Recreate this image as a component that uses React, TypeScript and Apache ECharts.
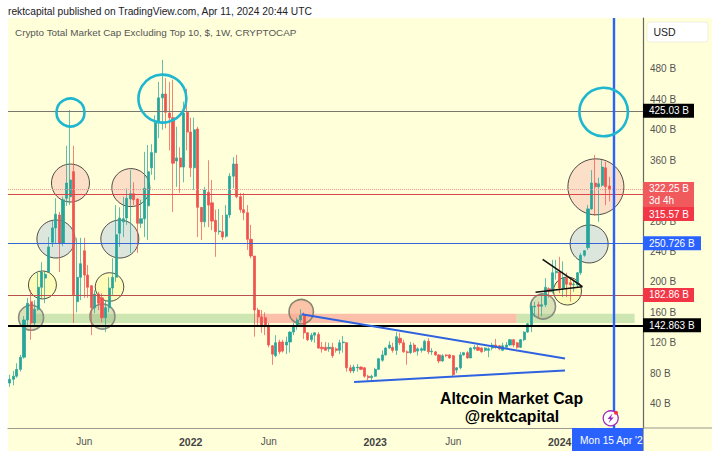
import React, { useEffect, useRef } from "react";
import * as echarts from "echarts";

const FONT = "'Liberation Sans', Arial, sans-serif";
const BG = "#ffffd9";
const UP = "#26a69a";
const DOWN = "#ef5350";
const UP_WICK = "rgba(38,166,154,0.8)";
const DOWN_WICK = "rgba(239,83,80,0.8)";

// Weekly candles in billions of USD, first week 2021-01-11.
const opens = [67,72,76,85,101,150,174,146,164,193,205,213,252,271,288,251,310,312,345,174,206,241,209,195,166,184,179,153,166,192,206,264,279,284,309,316,309,277,283,300,350,370,409,442,447,422,416,359,363,351,423,397,350,401,298,279,318,304,281,266,266,260,288,339,355,312,295,291,256,234,163,154,153,142,116,103,121,121,117,121,134,142,150,156,133,124,130,131,114,114,112,114,112,110,120,120,87,83,87,88,87,76,74,76,85,97,104,113,114,110,126,120,108,107,117,109,110,110,122,108,108,104,96,104,104,103,84,87,104,107,100,112,114,113,110,110,113,117,116,110,114,117,124,120,114,124,134,143,167,170,168,170,191,187,212,213,192,205,199,196,196,212,235,245,296,330,325,327,350,326];
const closes = [72,76,85,101,150,172,146,164,193,213,210,246,271,289,251,308,330,334,183,206,224,209,193,166,184,172,153,166,192,206,262,284,283,310,316,308,277,283,323,345,370,409,442,447,423,416,356,363,351,422,397,350,400,298,279,321,301,280,266,267,259,288,339,355,312,295,291,256,234,163,154,142,142,117,105,120,108,109,121,134,142,150,156,133,124,130,133,113,112,110,114,103,110,120,121,87,83,88,88,85,76,74,76,85,99,104,113,117,110,128,120,108,107,117,108,112,112,122,108,109,104,96,103,103,100,78,87,104,107,100,113,114,110,108,113,112,117,114,112,116,117,124,117,114,124,134,145,168,168,168,170,193,187,212,214,192,205,197,196,197,212,235,241,296,330,325,329,351,325,322];
const lows = [62,64,74,82,99,141,124,142,162,179,172,212,246,251,213,247,300,301,146,160,176,179,179,130,159,163,147,134,160,183,200,246,259,275,238,301,238,271,259,255,341,334,389,400,402,373,292,325,317,331,373,338,321,259,255,272,272,268,233,262,255,258,284,323,310,291,281,242,231,128,141,133,130,114,91,101,105,107,105,107,130,137,147,125,122,121,120,112,107,110,108,100,107,105,107,82,80,80,82,84,74,70,70,75,84,95,103,112,107,104,117,107,91,105,107,103,107,109,105,104,103,93,95,101,99,76,80,85,103,99,100,110,109,107,108,101,110,112,110,109,114,116,114,112,113,122,133,134,154,153,155,167,179,185,203,185,180,180,174,187,193,209,233,242,295,287,279,325,301,306];
const highs = [78,83,93,104,155,179,189,176,212,226,213,259,281,310,292,312,379,426,379,258,258,258,222,196,189,187,185,176,206,231,301,298,312,323,347,331,310,308,371,380,381,419,463,492,468,463,466,404,377,437,454,416,416,404,298,325,360,334,295,296,288,301,343,364,367,317,317,301,275,234,166,163,160,146,117,130,124,124,128,135,146,153,164,160,134,133,134,134,121,121,120,120,114,124,129,121,91,91,92,89,88,78,78,87,100,110,114,122,120,134,133,124,110,121,120,114,114,124,126,113,109,105,105,105,105,104,88,108,108,109,114,117,117,114,114,114,120,125,117,120,121,125,125,121,125,135,146,174,174,174,185,205,193,229,229,233,227,212,205,203,213,238,242,301,347,367,337,360,358,338];

const FIRST_WEEK = Date.UTC(2021, 0, 11);
const WEEK_COUNT = 179;
const weeks = Array.from({ length: WEEK_COUNT }, (_, i) =>
  new Date(FIRST_WEEK + i * 7 * 86400000).toISOString().slice(0, 10)
);
const monthLabels: Record<string, string> = {
  "2021-06-07": "Jun",
  "2022-01-03": "2022",
  "2022-06-06": "Jun",
  "2023-01-02": "2023",
  "2023-06-05": "Jun",
  "2024-01-01": "2024",
};
const priceTicks = [40, 80, 120, 160, 200, 240, 280, 360, 400, 440, 480];

// Horizontal levels: value, tag text, line colour, tag colour, line width, tag shift
const levels = [
  { value: 425.03, tag: "425.03 B", line: "#77776f", bg: "#000000", w: 1.2, width: 51, shift: 0 },
  { value: 315.57, tag: "315.57 B", line: "#d9474a", bg: "#f23645", w: 1.2, width: 51, shift: 20 },
  { value: 250.726, tag: "250.726 B", line: "#3563d8", bg: "#2962ff", w: 1.2, width: 58, shift: 0 },
  { value: 182.86, tag: "182.86 B", line: "#b94f4f", bg: "#f23645", w: 1.2, width: 51, shift: 0 },
  { value: 142.863, tag: "142.863 B", line: "#000000", bg: "#000000", w: 2, width: 58, shift: 0 },
];
const lastPrice = 322.25;

// Circled areas: week position, value, radius
const peachRings = [[17.1, 330, 19], [34.1, 324, 19], [165.1, 325, 28]];
const slateRings = [[13, 256.4, 19], [31, 256.4, 19], [163.2, 249.9, 19]];
const paleRings = [[9.2, 196, 14], [28.1, 193.3, 14.3], [157.1, 188, 14]];
const greyRings = [[6, 153, 12.5], [26.1, 154.5, 12.5], [150.2, 167.7, 12.5]];
const salmonRings = [[82.1, 160.8, 12.2]];
const cyanRings = [[17.1, 422.8, 14], [43, 441, 24], [167.3, 423.4, 24.3]];

// Zones: from week, to week, low, high
const greenZones = [[6, 69.4, 146, 158], [142.8, 176, 146, 158]];
const salmonZone = [69.4, 142.8, 146, 158];

const wedgeTop = [[82.2, 157.4], [156.4, 99.3]];
const wedgeBottom = [[97, 68.4], [156.4, 83.5]];
const flagTop = [[150.1, 229.7], [161.3, 193.7]];
const flagBottom = [[148.1, 186.3], [161.3, 193.7]];
const SELECTED_WEEK = 170;

const boltPoints = [[612.5, 413.5], [607.5, 419], [610.3, 419], [608.6, 423], [613.8, 417.4], [611, 417.4]];

function ringSeries(rings: number[][], fill: string, border: string, bw: number, z: number) {
  return {
    type: "scatter",
    xAxisIndex: 1,
    z,
    silent: true,
    data: rings.map((r) => ({ value: [r[0], r[1]], symbolSize: r[2] * 2 })),
    itemStyle: { color: fill, borderColor: border, borderWidth: bw, opacity: 1 },
  };
}

function trend(points: number[][], color: string, width: number) {
  return {
    type: "line",
    xAxisIndex: 1,
    z: 6,
    silent: true,
    showSymbol: false,
    data: points,
    lineStyle: { color, width },
  };
}

export default function App() {
  const ref = useRef<HTMLDivElement>(null);
  useEffect(() => {
    document.body.style.margin = "0";
    const chart = echarts.init(ref.current!, undefined, { renderer: "svg" });
    const txt = (x: number, y: number, text: string, fill: string, size: number, extra: any = {}) => ({
      type: "text",
      x,
      y,
      z: 50,
      silent: true,
      style: { text, fill, fontSize: size, fontFamily: FONT, textVerticalAlign: "middle", ...extra },
    });
    chart.setOption({
      animation: false,
      backgroundColor: "#ffffff",
      grid: { left: 8, top: 18, width: 635, height: 410, containLabel: false },
      xAxis: [
        {
          type: "category",
          data: weeks,
          axisLine: { lineStyle: { color: "#9a9a90", width: 1.2 } },
          axisTick: { show: false },
          splitLine: { show: false },
          axisLabel: {
            interval: (_: number, v: string) => v in monthLabels,
            hideOverlap: false,
            margin: 8,
            formatter: (v: string) => {
              const t = monthLabels[v] ?? "";
              return t.length === 4 ? `{y|${t}}` : t;
            },
            color: "#555",
            fontFamily: FONT,
            fontSize: 10,
            rich: { y: { fontWeight: "bold", color: "#444", fontFamily: FONT, fontSize: 10.5 } },
          },
        },
        { type: "value", show: false, min: -0.5, max: 178.37, splitLine: { show: false } },
      ],
      yAxis: {
        type: "value",
        position: "right",
        min: 7.9,
        max: 547,
        axisLine: { show: true, onZero: false, lineStyle: { color: "#666", width: 1.2 } },
        axisTick: { show: false },
        splitLine: { show: false },
        axisLabel: {
          customValues: priceTicks,
          margin: 7,
          color: "#555",
          fontFamily: FONT,
          fontSize: 10,
          formatter: (v: number) => `${v} B`,
        },
      },
      series: [
        {
          type: "line",
          xAxisIndex: 1,
          z: 1,
          silent: true,
          data: [],
          markArea: {
            silent: true,
            data: [
              ...greenZones.map((z) => [
                { xAxis: z[0], yAxis: z[2], itemStyle: { color: "#cde6b2", opacity: 1 } },
                { xAxis: z[1], yAxis: z[3] },
              ]),
              [
                { xAxis: salmonZone[0], yAxis: salmonZone[2], itemStyle: { color: "#fcc0aa", opacity: 1 } },
                { xAxis: salmonZone[1], yAxis: salmonZone[3] },
              ],
            ],
          },
        },
        ringSeries(peachRings, "#fbdfc6", "#222", 0.8, 2),
        ringSeries(slateRings, "#dde6dc", "#222", 0.8, 2),
        ringSeries(paleRings, "#fdfcb8", "#222", 0.8, 2),
        ringSeries(greyRings, "rgba(150,175,120,0.35)", "#8a8a80", 1.6, 2),
        ringSeries(salmonRings, "rgba(250,170,145,0.7)", "#84846f", 1.6, 2),
        {
          type: "candlestick",
          z: 3,
          silent: true,
          barWidth: 2.6,
          data: opens.map((o, i) => [o, closes[i], lows[i], highs[i]]),
          itemStyle: { color: UP, color0: DOWN, borderColor: UP_WICK, borderColor0: DOWN_WICK, borderWidth: 0.9 },
        },
        {
          type: "line",
          z: 4,
          silent: true,
          data: [],
          markLine: {
            silent: true,
            symbol: "none",
            animation: false,
            data: [
              {
                yAxis: lastPrice,
                lineStyle: { color: "#ef9a9a", width: 1, type: "dotted" },
                label: {
                  show: true,
                  position: "end",
                  distance: 0,
                  formatter: "322.25 B\n3d 4h",
                  color: "#fff",
                  fontFamily: FONT,
                  fontSize: 10,
                  lineHeight: 11.5,
                  backgroundColor: "#f05a5c",
                  width: 45,
                  padding: [1, 0, 1, 6],
                  align: "left",
                  offset: [0, 5.5],
                },
              },
              ...levels.map((l) => ({
                yAxis: l.value,
                lineStyle: { color: l.line, width: l.w, type: "solid" },
                label: {
                  show: true,
                  position: "end",
                  distance: 0,
                  formatter: l.tag,
                  color: "#fff",
                  fontFamily: FONT,
                  fontSize: 10,
                  backgroundColor: l.bg,
                  width: l.width - 6,
                  padding: [2, 0, 2, 6],
                  align: "left",
                  offset: [0, l.shift],
                },
              })),
            ],
          },
        },
        ringSeries(cyanRings, "rgba(0,0,0,0)", "#1fb7cf", 2.6, 5),
        trend(wedgeTop, "#2f62e0", 2),
        trend(wedgeBottom, "#2f62e0", 2),
        trend(flagTop, "#111", 1.6),
        trend(flagBottom, "#111", 1.6),
        {
          type: "line",
          xAxisIndex: 1,
          z: 7,
          silent: true,
          data: [],
          markLine: {
            silent: true,
            symbol: "none",
            label: { show: false },
            data: [{ xAxis: SELECTED_WEEK, lineStyle: { color: "#2962ff", width: 2.4, type: "solid" } }],
          },
        },
      ],
      graphic: {
        elements: [
          { type: "rect", z: -10, silent: true, shape: { x: 8, y: 18, width: 704, height: 433 }, style: { fill: BG } },
          { type: "line", z: 40, silent: true, shape: { x1: 643, y1: 428, x2: 712, y2: 428 }, style: { stroke: "#9a9a90", lineWidth: 1.2 } },
          { type: "line", z: 40, silent: true, shape: { x1: 643, y1: 428, x2: 643, y2: 451 }, style: { stroke: "#666", lineWidth: 1.2 } },
          txt(8, 11, "rektcapital published on TradingView.com, Apr 11, 2024 20:44 UTC", "#222", 10.25),
          txt(15, 32.5, "Crypto Total Market Cap Excluding Top 10, $, 1W, CRYPTOCAP", "#555", 9.9),
          { type: "rect", z: 45, silent: true, shape: { x: 647, y: 22, width: 61, height: 20, r: 3 }, style: { fill: "#ffffff", stroke: "#f0f0dc" } },
          txt(653.5, 32, "USD", "#222", 10.5),
          { type: "rect", z: 45, silent: true, shape: { x: 572, y: 428, width: 71, height: 23 }, style: { fill: "#2962ff" } },
          txt(580, 440, "Mon 15 Apr '2", "#ffffff", 10.2),
          txt(511.5, 398, "Altcoin Market Cap", "#000", 15.8, { fontWeight: "bold", textAlign: "center" }),
          txt(512, 416, "@rektcapital", "#000", 15.8, { fontWeight: "bold", textAlign: "center" }),
          { type: "circle", z: 46, silent: true, shape: { cx: 610.7, cy: 418.3, r: 7.5 }, style: { fill: "#fff", stroke: "#a02bb8", lineWidth: 1.3 } },
          { type: "polygon", z: 47, silent: true, shape: { points: boltPoints }, style: { fill: "#a02bb8" } },
          { type: "circle", z: 47, silent: true, shape: { cx: 616, cy: 412.7, r: 2 }, style: { fill: "#f23645" } },
        ],
      },
    });
    return () => chart.dispose();
  }, []);
  return <div ref={ref} style={{ position: "fixed", left: 0, top: 0, width: 720, height: 451 }} />;
}
